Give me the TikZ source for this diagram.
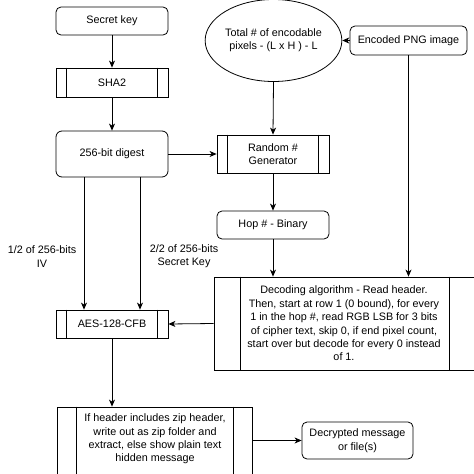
\documentclass[tikz,border=0pt]{standalone}
\usepackage{fontspec}
\setmainfont{Liberation Sans}
\usetikzlibrary{arrows.meta,shapes.geometric,calc}
\begin{document}
\begin{tikzpicture}[x=1pt,y=-1pt,
  every node/.style={font=\fontsize{10.8}{13.4}\selectfont, align=center, inner sep=0pt},
  rbox/.style={draw, rounded corners=5pt, line width=0.8pt},
  sbox/.style={draw, line width=0.8pt},
  arr/.style={-{Stealth[length=7pt,width=6pt,inset=2pt]}, line width=0.8pt},
  ln/.style={line width=0.8pt}]
\useasboundingbox (0,0) rectangle (474,474);
\clip (0,0) rectangle (474,474);
% nodes
\node[rbox, minimum width=112pt, minimum height=28pt] (sk) at (112,21) {Secret key};
\node[sbox, minimum width=112pt, minimum height=29pt] (sha) at (112,82.5) {SHA2};
\node[rbox, rounded corners=6pt, minimum width=112pt, minimum height=46pt] (dig) at (112,154) {256-bit digest};
\node[sbox, minimum width=112pt, minimum height=28pt] (aes) at (112,324) {AES-128-CFB};
\node[draw, ellipse, line width=0.8pt, minimum width=113pt, minimum height=82pt] (ell) at (273.5,40.5) {Total \# of encodable\\pixels - (L x H ) - L};
\node[rbox, minimum width=117pt, minimum height=29pt] (png) at (408.5,40.5) {Encoded PNG image};
\node[sbox, minimum width=112pt, minimum height=38pt] (rng) at (273,154) {Random \#\\Generator};
\node[rbox, minimum width=112pt, minimum height=28pt] (hop) at (273,225) {Hop \# - Binary};
\node[sbox, minimum width=261pt, minimum height=93pt] (dec) at (344.5,323.5) {};
\node (dectxt) at (344,323.5) {Decoding algorithm - Read header.\\Then, start at row 1 (0 bound), for every\\1 in the hop \#, read RGB LSB for 3 bits\\of cipher text, skip 0, if end pixel count,\\start over but decode for every 0 instead\\of 1.};
\node[sbox, minimum width=195pt, minimum height=77pt] (zip) at (154.5,445.5) {};
\node (ziptxt) at (155,439) {If header includes zip header,\\write out as zip folder and\\extract, else show plain text\\hidden message};
\node[rbox, minimum width=111pt, minimum height=37pt] (out) at (357.5,440.5) {Decrypted message\\or file(s)};
\node (lab1) at (42,256.5) {1/2 of 256-bits\\IV};
\node (lab2) at (184,256.5) {2/2 of 256-bits\\Secret Key};
% inner lines of subprocess boxes
\foreach \n/\d in {sha/11, aes/11, rng/11, dec/26.5, zip/19.5}{
  \draw[ln] ([xshift=\d pt]\n.north west) -- ([xshift=\d pt]\n.south west);
  \draw[ln] ([xshift=-\d pt]\n.north east) -- ([xshift=-\d pt]\n.south east);
}
% connectors
\draw[arr] (sk.south) -- (sha.north);
\draw[arr] (sha.south) -- (dig.north);
\draw[arr] (dig.east) -- (rng.west);
\draw[arr] (png.west) -- (ell.east);
\draw[arr] (ell.south) -- (rng.north);
\draw[arr] (rng.south) -- (hop.north);
\draw[arr] (hop.south) -- (hop.south |- dec.north);
\draw[arr] (png.south) -- (png.south |- dec.north);
\draw[arr] (dec.west) -- (aes.east);
\draw[arr] ($(dig.south)+(-28,0)$) -- ($(aes.north)+(-28,0)$);
\draw[arr] ($(dig.south)+(28,0)$) -- ($(aes.north)+(28,0)$);
\draw[arr] (aes.south) -- (aes.south |- zip.north);
\draw[arr] (zip.east |- out.west) -- (out.west);
\end{tikzpicture}
\end{document}
